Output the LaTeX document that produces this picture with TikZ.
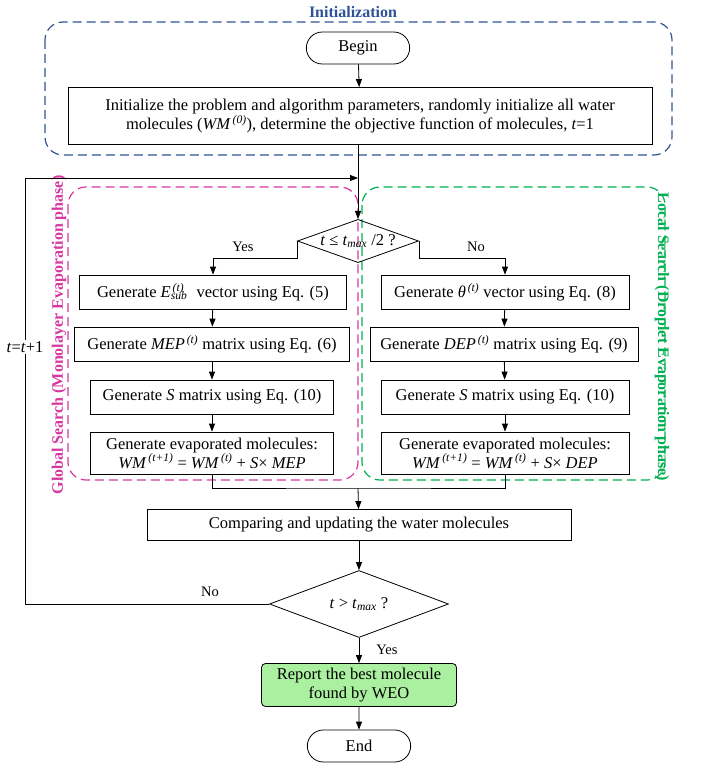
\documentclass[tikz,border=0pt]{standalone}
\usepackage{fontspec}
\setmainfont{Liberation Serif}
\usetikzlibrary{shapes.geometric,shapes.misc,arrows.meta,positioning}
\definecolor{initblue}{RGB}{47,84,150}
\definecolor{globmag}{RGB}{214,55,160}
\definecolor{locgreen}{RGB}{0,176,80}
\definecolor{repfill}{RGB}{170,240,160}
\newcommand{\iv}[1]{\textit{#1}}
\newcommand{\sps}[1]{\textsuperscript{\,\textit{#1}}}
\begin{document}
\begin{tikzpicture}[
      x=1pt,y=-1pt,
      every node/.style={font=\fontsize{16.5}{19}\selectfont},
      box/.style={rectangle,draw=black,thick,inner sep=2pt,align=center,minimum height=34},
      term/.style={rounded rectangle,draw=black,thick,minimum width=110,minimum height=32},
      decide/.style={diamond,draw=black,thick,aspect=2.8,inner sep=1pt},
      pointer/.style={thick,-{Triangle[length=8pt,width=6pt]},draw=black},
      line/.style={thick,draw=black},
      phase/.style={dash pattern=on 9pt off 5pt,very thick,rounded corners=18pt},
      lbl/.style={font=\fontsize{14.5}{17}\selectfont}
      ]
      \useasboundingbox (0,0) rectangle (705,773);
      % phase frames
      \draw[phase,initblue] (45,22) rectangle (672,155);
      \draw[phase,globmag] (68,187) rectangle (358,480);
      \draw[phase,locgreen] (362,187) rectangle (665,480);
      \node[initblue,font=\bfseries\fontsize{16}{18}\selectfont] (initlbl) at (353,12) {Initialization};
      \node[globmag,font=\bfseries\fontsize{16}{18}\selectfont,rotate=90] (globlbl) at (59,335) {Global Search (Monolayer Evaporation phase)};
      \node[locgreen,font=\bfseries\fontsize{16}{18}\selectfont,rotate=-90] (loclbl) at (662,337) {Local Search (Droplet Evaporation phase)};
      % main flow
      \node[term] (begin) at (358,48) {Begin};
      \node[box,minimum width=584,minimum height=57] (init) at (360,116) {Initialize the problem and algorithm parameters, randomly initialize all water\\molecules (\iv{WM}\sps{(0)}), determine the objective function of molecules, \iv{t}=1};
      \node[decide] (cond) at (358,241) {\iv{t} ≤ \iv{t}\textsubscript{\iv{max}} /2 ?};
      \node[box,minimum width=267] (esub) at (213,292) {Generate \iv{E}\rlap{\textsubscript{\iv{sub}}}\sps{(t)}\hspace{0.5em} vector using Eq. (5)};
      \node[box,minimum width=275] (mep) at (212,344) {Generate \iv{MEP}\sps{(t)} matrix using Eq. (6)};
      \node[box,minimum width=243] (sl) at (212,397) {Generate \iv{S} matrix using Eq. (10)};
      \node[box,minimum width=243,minimum height=42] (evl) at (212,453) {Generate evaporated molecules:\\\iv{WM}\sps{(t+1)} = \iv{WM}\sps{(t)} + \iv{S}× \iv{MEP}};
      \node[box,minimum width=248] (theta) at (505,292) {Generate \iv{θ}\sps{(t)} vector using Eq. (8)};
      \node[box,minimum width=268] (dep) at (504,344) {Generate \iv{DEP}\sps{(t)} matrix using Eq. (9)};
      \node[box,minimum width=248] (sr) at (505,397) {Generate \iv{S} matrix using Eq. (10)};
      \node[box,minimum width=248,minimum height=42] (evr) at (505,453) {Generate evaporated molecules:\\\iv{WM}\sps{(t+1)} = \iv{WM}\sps{(t)} + \iv{S}× \iv{DEP}};
      \node[box,minimum width=424,minimum height=31] (comp) at (359,525) {Comparing and updating the water molecules};
      \node[decide,minimum width=179,minimum height=67,aspect=2.7] (stop) at (359,604) {\iv{t} > \iv{t}\textsubscript{\iv{max}} ?};
      \node[box,rounded corners=4pt,fill=repfill,minimum width=195,minimum height=43,inner sep=1pt] (report) at (359,685) {Report the best molecule\\found by WEO};
      \node[term] (end) at (359,746) {End};
      \coordinate (loopbot) at (25,604);
      \coordinate (looptop) at (25,178);
      \coordinate (merge) at (358,488);
      % connectors
      \draw[pointer] (begin) -- (init);
      \draw[pointer] (init.south -| cond.north) -- (cond.north);
      \draw[pointer] (loopbot) -- (looptop) -- (looptop -| cond.north);
      \draw[pointer] (cond.west) -- ++(0,17) -| (esub.north);
      \draw[pointer] (cond.east) -- ++(0,17) -| (theta.north);
      \draw[pointer] (esub) -- (mep);
      \draw[pointer] (mep) -- (sl);
      \draw[pointer] (sl) -- (evl);
      \draw[pointer] (theta) -- (dep);
      \draw[pointer] (dep) -- (sr);
      \draw[pointer] (sr) -- (evr);
      \draw[line] (evl.south) |- (merge) -| (evr.south);
      \draw[pointer] (merge) -- (comp);
      \draw[pointer] (comp) -- (stop);
      \draw[line] (stop.west) -- (loopbot);
      \draw[pointer] (stop) -- (report);
      \draw[pointer] (report) -- (end);
      % labels
      \node[lbl] (yes1) at (243,247) {Yes};
      \node[lbl] (no1) at (476,247) {No};
      \node[lbl] (no2) at (210,592) {No};
      \node[lbl] (yes2) at (387,650) {Yes};
      \node[fill=white,inner sep=1pt] (inc) at (25,347) {\iv{t}=\iv{t}+1};
\end{tikzpicture}
\end{document}
